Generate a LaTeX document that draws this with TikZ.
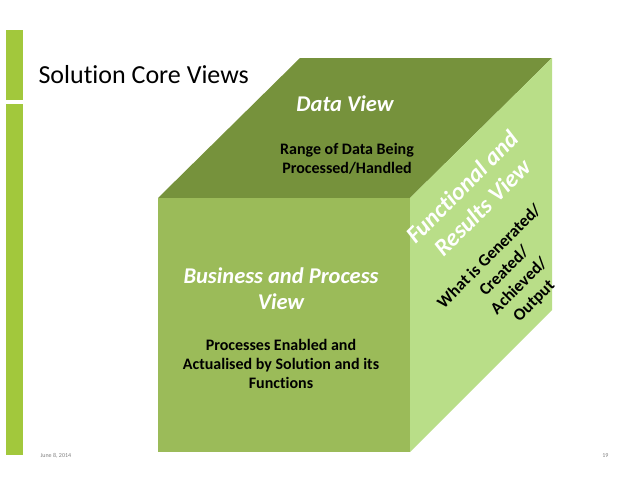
\documentclass[tikz,border=0pt]{standalone}
\usepackage{fontspec}
\setmainfont[RawFeature={-liga;-dlig;-clig}]{Carlito}
\begin{document}
\begin{tikzpicture}[x=1pt,y=-1pt,
  hd/.style={text=white, font=\fontsize{22.5}{26}\selectfont\bfseries\itshape, align=center},
  bd/.style={font=\fontsize{16}{19}\selectfont\bfseries, align=center}]
\useasboundingbox (0,0) rectangle (638,493);
\definecolor{barg}{HTML}{A2C83C}
\definecolor{topg}{HTML}{76923C}
\definecolor{frontg}{HTML}{9BBB59}
\definecolor{sideg}{HTML}{B9DE88}
\fill[barg] (6,30) rectangle (23,100);
\fill[barg] (6,104) rectangle (23,455);
\node[anchor=west, font=\fontsize{26}{30}\selectfont] (title) at (35,75) {Solution Core Views};
\fill[topg] (158,198) -- (410,198) -- (552,58) -- (300,58) -- cycle;
\fill[frontg] (158,198) rectangle (410,452);
\fill[sideg] (410,198) -- (552,58) -- (552,310) -- (410,452) -- cycle;
\node[hd] (dv) at (345,104) {Data View};
\node[bd] (dvt) at (347,159) {Range of Data Being\\Processed/Handled};
\node[hd] (bp) at (281,289) {Business and Process\\View};
\node[bd] (bpt) at (281,364) {Processes Enabled and\\Actualised by Solution and its\\Functions};
\node[hd, font=\fontsize{24}{29}\selectfont\bfseries\itshape, rotate=45] (fr) at (472,197) {Functional and\\Results View};
\node[bd, font=\fontsize{17}{21}\selectfont\bfseries, rotate=45] (frt) at (512,279) {What is Generated/\\Created/\\Achieved/\\Output};
\node[anchor=west, font=\fontsize{6}{7}\selectfont, text=gray] (dt) at (37,456) {June 8, 2014};
\node[anchor=east, font=\fontsize{6}{7}\selectfont, text=gray] (pg) at (612,456) {19};
\end{tikzpicture}
\end{document}
